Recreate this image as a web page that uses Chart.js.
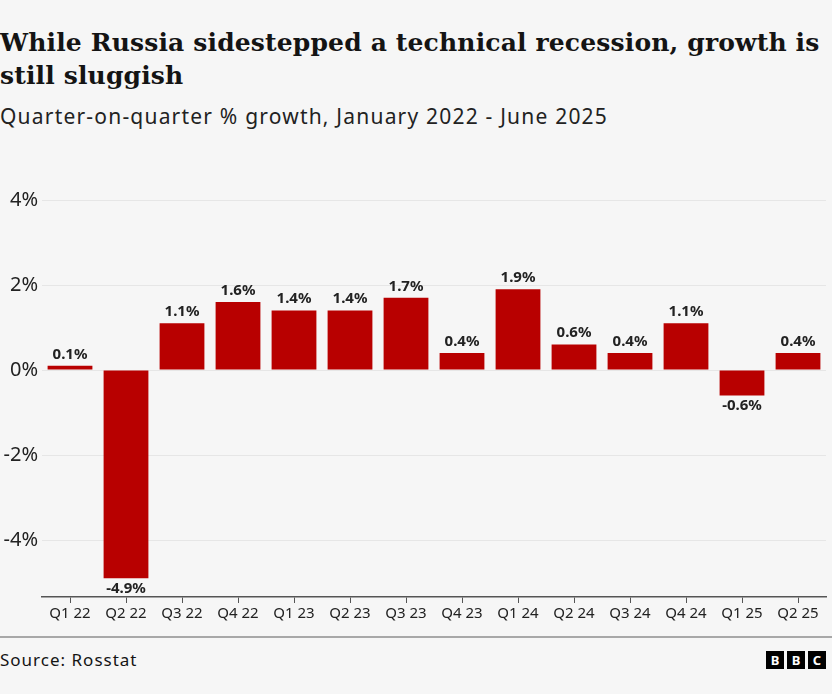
<!DOCTYPE html>
<html>
<head>
<meta charset="utf-8">
<script src="https://cdn.jsdelivr.net/npm/chart.js@4"></script>
<style>
  html, body { margin:0; padding:0; background:#f6f6f6; width:832px; height:694px; overflow:hidden; }
  body { position:relative; font-family:"Noto Sans", sans-serif; color:#141414; }
  #title { position:absolute; left:0; top:26px; font-family:"DejaVu Serif", serif; font-weight:bold; font-size:25px; line-height:33px; white-space:nowrap; letter-spacing:0.15px; }
  #subtitle { position:absolute; left:0; top:102px; font-size:21px; line-height:28px; white-space:nowrap; color:#222; letter-spacing:1.2px; }
  #wrap { position:absolute; left:0; top:180px; width:832px; height:450px; }
  #sep { position:absolute; left:0; top:636px; width:832px; height:2px; background:#a8a8a8; }
  #source { position:absolute; left:0; top:649px; font-size:17px; line-height:22px; color:#141414; letter-spacing:1px; }
  #logo { position:absolute; right:6px; top:651px; display:flex; gap:3px; }
  #logo span { display:block; width:18px; height:18px; background:#000; color:#fff; font-weight:bold; font-size:13px; line-height:18px; text-align:center; font-family:"Noto Sans", sans-serif; }
</style>
</head>
<body>
<div id="title">While Russia sidestepped a technical recession, growth is<br>still sluggish</div>
<div id="subtitle">Quarter-on-quarter % growth, January 2022 - June 2025</div>
<div id="wrap"><canvas id="c"></canvas></div>
<div id="sep"></div>
<div id="source">Source: Rosstat</div>
<div id="logo"><span>B</span><span>B</span><span>C</span></div>
<script>
const categories = ["Q1 22","Q2 22","Q3 22","Q4 22","Q1 23","Q2 23","Q3 23","Q4 23","Q1 24","Q2 24","Q3 24","Q4 24","Q1 25","Q2 25"];
const growth = [0.1, -4.9, 1.1, 1.6, 1.4, 1.4, 1.7, 0.4, 1.9, 0.6, 0.4, 1.1, -0.6, 0.4];
const yTicks = [-4, -2, 0, 2, 4];

const labelPlugin = {
  id: 'barLabels',
  afterDatasetsDraw(chart) {
    const ctx = chart.ctx;
    const meta = chart.getDatasetMeta(0);
    ctx.save();
    ctx.font = 'bold 15px "Noto Sans", sans-serif';
    ctx.fillStyle = '#222';
    ctx.textAlign = 'center';
    meta.data.forEach((bar, i) => {
      const v = growth[i];
      const txt = v.toFixed(1) + '%';
      if (v >= 0) { ctx.textBaseline = 'bottom'; ctx.fillText(txt, bar.x, bar.y - 4); }
      else { ctx.textBaseline = 'top'; ctx.fillText(txt, bar.x, bar.y + 3); }
    });
    ctx.restore();
  }
};

new Chart(document.getElementById('c'), {
  type: 'bar',
  data: {
    labels: categories,
    datasets: [{ data: growth, backgroundColor: '#b80000', barPercentage: 0.8, categoryPercentage: 1.0 }]
  },
  plugins: [labelPlugin],
  options: {
    responsive: true,
    maintainAspectRatio: false,
    animation: false,
    layout: { padding: { top: 20, right: 6, left: 0, bottom: 0 } },
    plugins: { legend: { display: false }, tooltip: { enabled: false } },
    scales: {
      x: {
        grid: { display: true, drawOnChartArea: false, offset: false, tickLength: 6, color: '#555', lineWidth: 1 },
        border: { display: true, color: '#555', width: 1.5 },
        ticks: { color: '#222', font: { size: 15, family: '"Noto Sans", sans-serif' }, padding: 2, maxRotation: 0, autoSkip: false },
        afterFit(s) { s.height = 33; }
      },
      y: {
        min: -5.34, max: 4,
        afterBuildTicks(s) { s.ticks = yTicks.map(v => ({ value: v })); },
        grid: { color: '#e6e6e6', drawTicks: false, lineWidth: 1 },
        border: { display: false },
        ticks: { color: '#222', font: { size: 20, family: '"Noto Sans", sans-serif' }, padding: 4, callback: v => v + '%' },
        afterFit(s) { s.width = 42; }
      }
    }
  }
});
</script>
</body>
</html>
